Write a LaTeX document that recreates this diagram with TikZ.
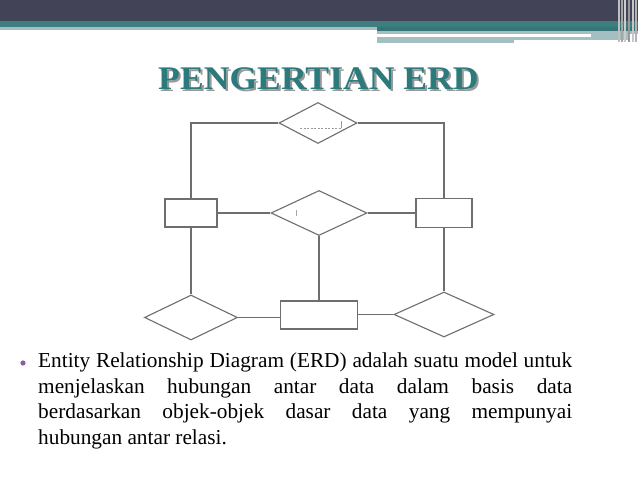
\documentclass[tikz,border=0pt]{standalone}
\usepackage{fontspec}
\setmainfont{Liberation Serif}
\usetikzlibrary{shapes.geometric}
\definecolor{hdark}{HTML}{424356}
\definecolor{hteal}{HTML}{3E7E80}
\definecolor{hteald}{HTML}{357577}
\definecolor{hlight}{HTML}{A4BFC1}
\definecolor{ttl}{HTML}{2B7A7C}
\definecolor{lin}{HTML}{6E6E6E}
\definecolor{bul}{HTML}{8E5BA0}
\tikzset{
  erline/.style={draw=lin, line width=1.1pt},
  entbox/.style={rectangle, erline, inner sep=0pt, fill=white},
  reldia/.style={diamond, erline, inner sep=0pt, fill=white},
}
\begin{document}
\begin{tikzpicture}[x=1pt,y=-1pt]
\useasboundingbox (0,0) rectangle (638,478);
\fill[white] (0,0) rectangle (638,478);
% header bands
\fill[hdark] (0,0) rectangle (638,21);
\fill[hteal] (0,21) rectangle (638,27);
\fill[hlight] (0,27) rectangle (377,30.5);
\fill[hteald] (377,27) rectangle (638,31);
\fill[hlight] (377,31) rectangle (638,34);
\fill[hlight] (591,34) rectangle (630,40.5);
\fill[hlight] (377,37) rectangle (514,43);
\fill[hlight] (514,37) rectangle (630,40.5);
\fill[white] (377,34) rectangle (591,35.5);
\foreach \xx/\cc in {618/gray!50,621/gray!70,624/gray!40,628/gray!80,632/gray!45,635/gray!60}
  \fill[\cc] (\xx,0) rectangle (\xx+1.5,42);
% title (with drop shadow)
\node[text=ttl, font=\bfseries\fontsize{33}{36}\selectfont, anchor=base] (title) at (318.5,89.5)
  {\makebox[0pt][l]{\hspace*{2pt}\raisebox{-2pt}{\textcolor{black!40}{\scalebox{1.08}[1]{PENGERTIAN ERD}}}}\scalebox{1.08}[1]{PENGERTIAN ERD}};
% ERD shapes
\node[reldia, minimum width=78pt, minimum height=41pt] (td) at (318,123) {};
\node[entbox, minimum width=52pt, minimum height=28pt] (lr) at (191,213) {};
\node[reldia, minimum width=96pt, minimum height=45pt] (md) at (319,213) {};
\node[entbox, minimum width=56pt, minimum height=29pt] (rr) at (444,213) {};
\node[reldia, minimum width=93pt, minimum height=45pt] (bl) at (191,317.5) {};
\node[entbox, minimum width=77pt, minimum height=28pt] (bm) at (319,315) {};
\node[reldia, minimum width=100pt, minimum height=45pt] (br) at (444,314.5) {};
% faint marks
\draw[lin!70, line width=0.5pt, dash pattern=on 2pt off 1.5pt] (300,128) -- (341,128);
\draw[lin!70, line width=0.5pt] (341,128) -- (341,121);
\draw[lin!60, line width=0.6pt] (296,210) -- (296,216);
% connectors
\draw[erline] (td.west) -| (lr.north);
\draw[erline] (td.east) -| (rr.north);
\draw[erline] (lr.east) -- (md.west);
\draw[erline] (md.east) -- (rr.west);
\draw[erline] (lr.south) -- (bl.north);
\draw[erline] (rr.south) -- (br.north);
\draw[erline] (md.south) -- (bm.north);
\draw[erline] (bl.east) -- (bl.east -| bm.west);
\draw[erline] (bm.east |- br.west) -- (br.west);
% bullet text
\fill[bul] (23,363) circle (2.6pt);
\node[anchor=north west, text width=534pt, inner sep=0pt, align=justify,
      font=\fontsize{21.3}{25.5}\selectfont] (body) at (38,353)
  {\hyphenpenalty=10000\exhyphenpenalty=10000 Entity Relationship Diagram (ERD) adalah suatu model untuk\linebreak
   menjelaskan hubungan antar data dalam basis data\linebreak
   berdasarkan objek-objek dasar data yang mempunyai\linebreak
   hubungan antar relasi.};
\end{tikzpicture}
\end{document}
